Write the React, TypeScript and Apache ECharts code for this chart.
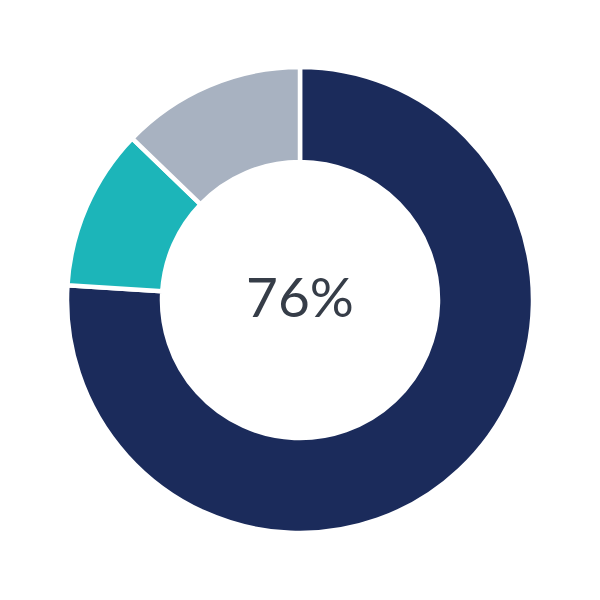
import React, { useEffect, useRef } from "react";
import * as echarts from "echarts";

const categories = ["A", "B", "C"];
const values = [76, 11.2, 12.8];
const colors = ["#1b2b5b", "#1cb5b9", "#a8b2c1"];
const centerLabel = "76%";

export default function App() {
  const ref = useRef<HTMLDivElement>(null);
  useEffect(() => {
    document.body.style.margin = "0";
    const chart = echarts.init(ref.current!, null, { renderer: "svg" });
    chart.setOption({
      animation: false,
      backgroundColor: "#ffffff",
      graphic: [
        {
          type: "text",
          left: "center",
          top: 268,
          style: {
            text: centerLabel,
            fontFamily: "Lato",
            fontSize: 55,
            fontWeight: "normal",
            fill: "#363d48",
          },
        },
      ],
      series: [
        {
          type: "pie",
          center: ["50%", "50%"],
          radius: [138, 233],
          startAngle: 90,
          clockwise: true,
          label: { show: false },
          labelLine: { show: false },
          emphasis: { disabled: true },
          itemStyle: { borderColor: "#ffffff", borderWidth: 4.5 },
          data: categories.map((c, i) => ({
            name: c,
            value: values[i],
            itemStyle: { color: colors[i] },
          })),
        },
      ],
    });
    return () => chart.dispose();
  }, []);
  return (
    <div
      ref={ref}
      style={{ position: "fixed", left: 0, top: 0, width: 600, height: 600 }}
    />
  );
}
